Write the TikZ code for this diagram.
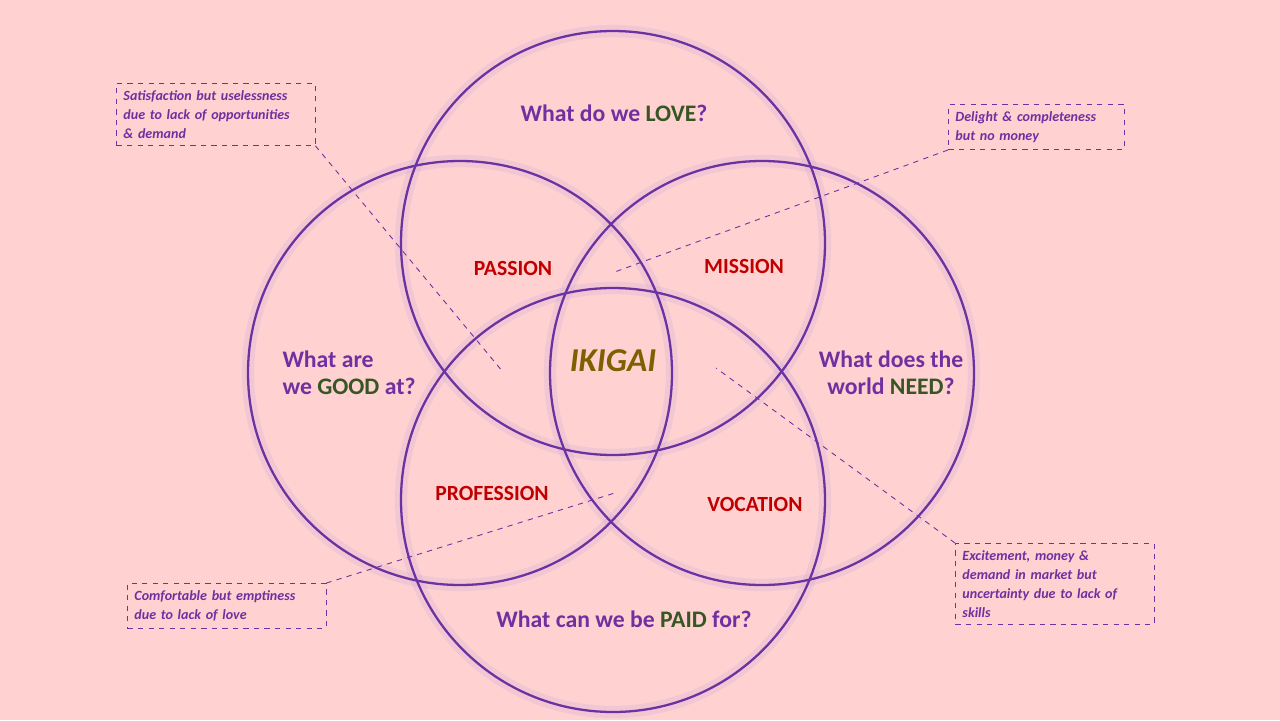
\documentclass[tikz,border=0pt]{standalone}
\usepackage{fontspec}
\setmainfont{Carlito}
\usepackage{xcolor}
\definecolor{ikpurple}{HTML}{7030A0}
\definecolor{ikgreen}{HTML}{375623}
\definecolor{ikred}{HTML}{C00000}
\definecolor{ikgold}{HTML}{7F6000}
\definecolor{ikpink}{HTML}{FFD1D1}
\tikzset{
  ring/.style={draw=ikpurple,line width=1.3pt},
  glow/.style={draw=ikpurple!40,line width=7pt,opacity=0.25},
  question/.style={font=\bfseries\fontsize{13.5}{15.5}\selectfont,text=ikpurple,align=center},
  overlap/.style={font=\bfseries\fontsize{12.3}{14}\selectfont,text=ikred},
  note/.style={draw=ikpurple,dashed,line width=0.5pt,font=\bfseries\itshape\fontsize{8}{10.8}\selectfont,text=ikpurple,align=left,anchor=north west,inner sep=4pt},
  leader/.style={draw=ikpurple,dashed,line width=0.5pt}
}
\begin{document}
\begin{tikzpicture}[x=0.02cm,y=-0.02cm]
\fill[ikpink] (0,0) rectangle (1280,720);
\useasboundingbox (0,0) rectangle (1280,720);

% glow under the circles
\foreach \cx/\cy in {613/243,460/373,762/373,613/500}
  \draw[glow] (\cx,\cy) circle[radius=212];
\foreach \cx/\cy in {613/243,460/373,762/373,613/500}
  \draw[ring] (\cx,\cy) circle[radius=212];

% questions
\node[question] (love) at (614,113) {What do we \textcolor{ikgreen}{LOVE}?};
\node[question,align=left] (good) at (349,373) {What are\\we \textcolor{ikgreen}{GOOD} at?};
\node[question] (need) at (891,373) {What does the\\world \textcolor{ikgreen}{NEED}?};
\node[question] (paid) at (624,619) {What can we be \textcolor{ikgreen}{PAID} for?};

% overlaps
\node[overlap] (passion) at (513,268) {PASSION};
\node[overlap] (mission) at (744,266) {MISSION};
\node[overlap] (profession) at (492,493) {PROFESSION};
\node[overlap] (vocation) at (755,504) {VOCATION};
\node[font=\bfseries\itshape\fontsize{19}{22}\selectfont,text=ikgold] (ikigai) at (613,361) {IKIGAI};

% notes
\node[note,text width=105pt] (satis) at (116,83) {Satisfaction but uselessness\\due to lack of opportunities\\\& demand};
\node[note,text width=92pt] (delight) at (948,104) {Delight \& completeness\\but no money};
\node[note,text width=105pt] (comfort) at (127,583) {Comfortable but emptiness\\due to lack of love};
\node[note,text width=105pt] (excite) at (955,543) {Excitement, money \&\\demand in market but\\uncertainty due to lack of\\skills};

\coordinate (satisEnd) at (503,372);
\coordinate (delightEnd) at (612,273);
\coordinate (comfortEnd) at (618,492);
\coordinate (exciteEnd) at (716,368);
\draw[leader] (satis.south east) -- (satisEnd);
\draw[leader] (delight.south west) -- (delightEnd);
\draw[leader] (comfort.north east) -- (comfortEnd);
\draw[leader] (excite.north west) -- (exciteEnd);
\end{tikzpicture}
\end{document}
